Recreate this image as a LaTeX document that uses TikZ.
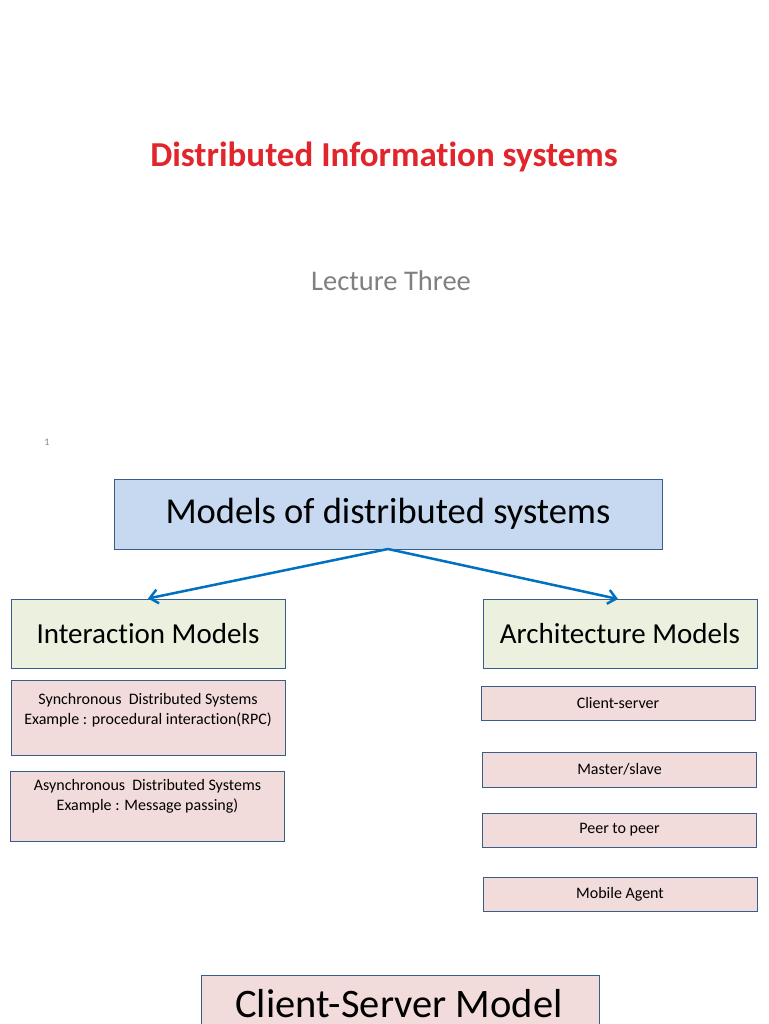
\documentclass[tikz,border=0pt]{standalone}
\usepackage{fontspec}
\setmainfont{Carlito}[Ligatures={NoCommon}]
\usetikzlibrary{arrows.meta}
\definecolor{bl}{HTML}{C6D9F1}
\definecolor{gr}{HTML}{EBF1DE}
\definecolor{pk}{HTML}{F2DCDB}
\definecolor{bd}{HTML}{385D8A}
\definecolor{ar}{HTML}{0070C0}
\definecolor{tr}{HTML}{E0262C}
\begin{document}
\begin{tikzpicture}[x=1pt,y=-1pt,
 box/.style={draw=bd,line width=1pt,inner sep=0pt,align=center,text=black},
 arr/.style={draw=ar,line width=2.5pt,-{Straight Barb[length=8pt,width=14pt]}}]
\useasboundingbox[fill=white] (0,0) rectangle (768,1024);
\node[text=tr,font=\bfseries\fontsize{35}{40}\selectfont] (title) at (384,157) {Distributed Information systems};
\node[text=gray,font=\fontsize{28.5}{32}\selectfont] (lec) at (391,281) {Lecture Three};
\node[text=gray,font=\fontsize{10}{11}\selectfont] (num) at (47,442) {1};
\node[box,fill=bl,minimum width=548pt,minimum height=70pt,font=\fontsize{36.5}{40}\selectfont] (main) at (388,514) {Models of distributed systems};
\node[box,fill=gr,minimum width=274pt,minimum height=69pt,font=\fontsize{29}{32}\selectfont] (im) at (148,633.5) {Interaction Models};
\node[box,fill=gr,minimum width=274pt,minimum height=69pt,font=\fontsize{29}{32}\selectfont] (am) at (620,633.5) {Architecture Models};
\tikzset{small/.style={box,fill=pk,minimum width=274pt,font=\fontsize{16}{20}\selectfont}}
\node[small,minimum height=75pt,text depth=18pt] (sync) at (148,717.5) {Synchronous\ \ Distributed Systems\\Example : procedural interaction(RPC)};
\node[small,minimum height=70pt,text depth=22pt] (async) at (147.5,806) {Asynchronous\ \ Distributed Systems\\Example : Message passing)};
\node[small,minimum height=34pt] (cs) at (618,703) {Client-server};
\node[small,minimum height=35pt] (ms) at (619.5,769.5) {Master/slave};
\node[small,minimum height=34pt] (pp) at (619.5,830) {Peer to peer};
\node[small,minimum height=34pt] (ma) at (620,894) {Mobile Agent};
\node[box,fill=pk,minimum width=398pt,minimum height=80pt,anchor=north] (csm) at (400,975) {};
\node[font=\fontsize{40.5}{44}\selectfont,inner sep=0pt] (csmt) at (399,1004) {Client-Server Model};
\coordinate (o) at (388,549);
\draw[arr] (o) -- (im.north);
\draw[arr] (o) -- (618,599);
\end{tikzpicture}
\end{document}
